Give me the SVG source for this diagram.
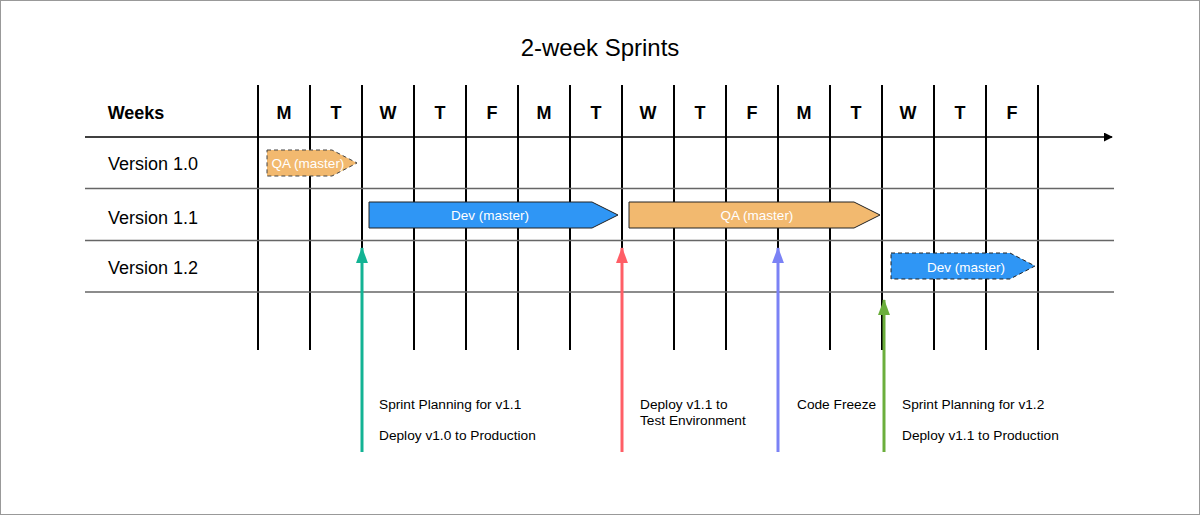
<svg xmlns="http://www.w3.org/2000/svg" width="1200" height="515" viewBox="0 0 1200 515">
<defs>
<style>
text{font-family:"Liberation Sans",Arial,sans-serif;fill:#000}
.hd{font-size:18px;font-weight:bold;text-anchor:middle}
.row{font-size:18px}
.lbl{font-size:13.7px}
.bar{font-size:13.5px;fill:#fff;text-anchor:middle}
.v{stroke:#000;stroke-width:2}
.h{stroke:#666;stroke-width:1.5}
</style>
<marker id="ah" viewBox="0 0 10 10" refX="9" refY="5" markerWidth="6" markerHeight="6" orient="auto"><path d="M0,0L10,5L0,10z" fill="#000"/></marker>
<marker id="ag" viewBox="0 0 16 12" refX="15" refY="6" markerWidth="5.3" markerHeight="4" orient="auto"><path d="M0,0L16,6L0,12z" fill="#13b394"/></marker>
<marker id="ar" viewBox="0 0 16 12" refX="15" refY="6" markerWidth="5.3" markerHeight="4" orient="auto"><path d="M0,0L16,6L0,12z" fill="#ff5e66"/></marker>
<marker id="ab" viewBox="0 0 16 12" refX="15" refY="6" markerWidth="5.3" markerHeight="4" orient="auto"><path d="M0,0L16,6L0,12z" fill="#7b82f5"/></marker>
<marker id="al" viewBox="0 0 16 12" refX="15" refY="6" markerWidth="5.3" markerHeight="4" orient="auto"><path d="M0,0L16,6L0,12z" fill="#6bae3c"/></marker>
</defs>
<rect x="0.5" y="0.5" width="1199" height="514" fill="#fff" stroke="#999"/>
<text x="600" y="56" font-size="24" text-anchor="middle">2-week Sprints</text>
<g id="grid">
<g class="v">
<line x1="258" y1="85" x2="258" y2="350"/><line x1="310" y1="85" x2="310" y2="350"/><line x1="362" y1="85" x2="362" y2="350"/><line x1="414" y1="85" x2="414" y2="350"/><line x1="466" y1="85" x2="466" y2="350"/><line x1="518" y1="85" x2="518" y2="350"/><line x1="570" y1="85" x2="570" y2="350"/><line x1="622" y1="85" x2="622" y2="350"/><line x1="674" y1="85" x2="674" y2="350"/><line x1="726" y1="85" x2="726" y2="350"/><line x1="778" y1="85" x2="778" y2="350"/><line x1="830" y1="85" x2="830" y2="350"/><line x1="882" y1="85" x2="882" y2="350"/><line x1="934" y1="85" x2="934" y2="350"/><line x1="986" y1="85" x2="986" y2="350"/><line x1="1038" y1="85" x2="1038" y2="350"/>
</g>
<g class="h"><line x1="85" y1="188.5" x2="1114" y2="188.5"/><line x1="85" y1="240.5" x2="1114" y2="240.5"/><line x1="85" y1="292" x2="1114" y2="292"/></g>
<line x1="85" y1="137" x2="1112" y2="137" stroke="#000" stroke-width="1.5" marker-end="url(#ah)"/>
</g>
<g id="headers">
<text class="hd" x="136" y="119">Weeks</text>
<text class="hd" x="284" y="119">M</text><text class="hd" x="336" y="119">T</text><text class="hd" x="388" y="119">W</text><text class="hd" x="440" y="119">T</text><text class="hd" x="492" y="119">F</text><text class="hd" x="544" y="119">M</text><text class="hd" x="596" y="119">T</text><text class="hd" x="648" y="119">W</text><text class="hd" x="700" y="119">T</text><text class="hd" x="752" y="119">F</text><text class="hd" x="804" y="119">M</text><text class="hd" x="856" y="119">T</text><text class="hd" x="908" y="119">W</text><text class="hd" x="960" y="119">T</text><text class="hd" x="1012" y="119">F</text>
<text class="row" x="108" y="170">Version 1.0</text>
<text class="row" x="108" y="224">Version 1.1</text>
<text class="row" x="108" y="274">Version 1.2</text>
</g>
<g id="qa10"><path d="M267,150H332L357,163L332,176H267Z" fill="#f2b96f" stroke="#444" stroke-dasharray="4 3" stroke-linejoin="round"/><text class="bar" x="308" y="168">QA (master)</text></g>
<g id="dev11"><path d="M369,202H592L618,215L592,228H369Z" fill="#2f96f5" stroke="#222" stroke-linejoin="round"/><text class="bar" x="490" y="220">Dev (master)</text></g>
<g id="qa11"><path d="M629,202H854L880,215L854,228H629Z" fill="#f2b96f" stroke="#222" stroke-linejoin="round"/><text class="bar" x="757" y="220">QA  (master)</text></g>
<g id="dev12"><path d="M891,253H1010L1035,266L1010,279H891Z" fill="#2f96f5" stroke="#222" stroke-dasharray="4 3" stroke-linejoin="round"/><text class="bar" x="966" y="272">Dev (master)</text></g>
<g id="connectors" stroke-width="3">
<line x1="362" y1="452" x2="362" y2="248" stroke="#13b394" marker-end="url(#ag)"/>
<line x1="622" y1="452" x2="622" y2="248" stroke="#ff5e66" marker-end="url(#ar)"/>
<line x1="778" y1="452" x2="778" y2="248" stroke="#7b82f5" marker-end="url(#ab)"/>
<line x1="884" y1="452" x2="884" y2="300" stroke="#6bae3c" marker-end="url(#al)"/>
</g>
<g id="labels">
<text class="lbl" x="379" y="409">Sprint Planning for v1.1</text>
<text class="lbl" x="379" y="440">Deploy v1.0 to Production</text>
<text class="lbl" x="640" y="409">Deploy v1.1 to</text>
<text class="lbl" x="640" y="425">Test Environment</text>
<text class="lbl" x="797" y="409">Code Freeze</text>
<text class="lbl" x="902" y="409">Sprint Planning for v1.2</text>
<text class="lbl" x="902" y="440">Deploy v1.1 to Production</text>
</g>
</svg>
